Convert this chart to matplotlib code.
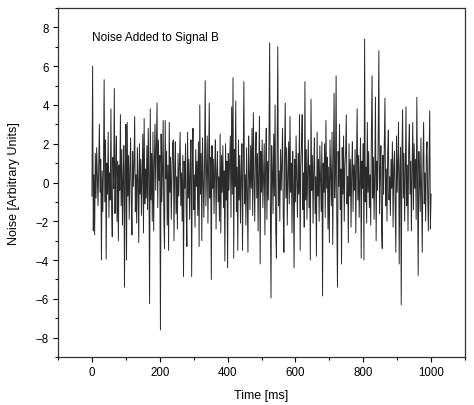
import matplotlib
matplotlib.use("Agg")
import matplotlib.pyplot as plt
from matplotlib.ticker import MultipleLocator
import numpy as np

plt.rcParams["font.family"] = ["Liberation Sans", "DejaVu Sans"]

# noise samples, 2 ms apart (t = 0 ... 1000 ms)
noise = [
    -0.7, 6.0, -2.5, 0.4, -2.7, 1.5, -0.8, 1.8, 0.2, -1.2, 0.9, 3.0, -0.5, 1.2, -4.0, 0.6, -1.5, 0.8, 5.3, -1.0,
    2.2, -3.95, 1.0, -0.6, 2.6, -1.8, 0.5, -0.9, 3.8, -1.4, -2.8, 1.3, -0.3, 4.85, -1.6, 0.7, 2.4, -2.0, 1.1, -3.0,
    0.9, -0.4, 3.5, -1.2, 1.7, -2.2, 0.3, 1.9, -5.4, 0.8, 3.0, -4.0, 3.1, -0.7, 1.4, -1.9, 0.6, 2.3, -0.9, -2.7,
    1.6, -0.2, 0.9, 3.4, -1.5, 0.4, -2.1, 1.8, 0.1, -3.1, 2.0, -0.6, 1.2, -1.7, 0.5, 2.5, -2.6, 3.3, -1.1, 0.7,
    -0.8, 1.9, -1.4, 2.8, 0.3, -6.25, 3.8, -0.9, 1.5, -2.0, 2.6, -2.5, 1.0, 3.0, -0.4, 1.7, 4.1, -1.3, 2.2, 0.1,
    1.4, -7.6, 2.5, -1.0, 0.6, 3.2, -1.8, -3.4, 3.2, 0.2, 1.6, -2.2, 0.9, -3.5, 3.1, -0.5, 1.3, -1.9, 0.4, 2.0,
    2.2, -3.0, 0.8, 2.1, -1.6, 0.3, -2.4, 1.5, -0.7, 0.9, 2.6, -1.2, 0.5, -2.0, 1.4, -4.85, 1.1, -0.3, 2.0, -1.5,
    -3.3, 2.6, -0.8, 1.2, -1.9, 0.6, 2.2, -4.85, 1.0, 2.8, -1.4, 0.4, -2.3, 1.7, -0.2, 1.1, -1.7, 2.1, -3.3, 4.0,
    -0.6, 1.5, -3.0, 2.3, 0.2, -1.8, 1.0, 5.25, -1.2, 0.7, 2.4, -2.1, 0.9, 4.1, -0.8, 1.3, -5.0, 1.9, -0.3, 1.2,
    -1.6, 0.8, 2.2, -2.4, 0.5, 1.6, -1.0, 0.3, -2.0, 2.5, -2.6, 1.4, -0.5, 1.9, -1.3, 0.6, -4.05, 2.0, -0.9, 1.1,
    -4.4, 1.5, -0.4, 0.9, 2.4, -1.8, 3.9, -0.6, 5.4, -3.9, 1.7, -0.2, 4.2, -1.5, 0.8, -3.5, 2.2, -0.9, 1.4, -2.1,
    0.5, 2.0, -3.5, 1.2, 5.2, -1.1, 0.4, -2.2, 1.8, -0.6, -3.6, 2.4, 0.7, -1.4, 1.9, -0.3, 2.8, -1.7, 3.6, 0.2,
    -2.0, 1.3, 2.6, -0.8, 1.5, -2.5, 0.9, 3.4, -4.2, 1.6, -0.5, 2.2, -1.3, 0.4, 2.0, -2.7, 0.8, 2.8, -1.9, 1.1,
    -0.9, 2.3, 7.2, -1.0, -5.95, 1.9, 0.5, -1.6, 2.5, -0.7, 4.0, -2.4, -3.9, 1.4, 7.0, -1.2, 0.6, -2.0, 1.7, -0.4,
    0.9, 2.8, -1.5, -3.6, 1.3, 4.1, -0.8, 1.8, -2.2, 0.3, 2.1, -1.1, 3.4, -0.5, 1.0, -2.6, 1.6, -0.2, -4.4, 1.2,
    -1.0, 2.4, 0.1, -1.8, 1.5, -0.6, 3.5, -3.5, 0.8, 2.0, 3.5, -1.4, 0.5, -2.3, 5.2, -0.9, 1.7, -1.9, 0.6, 2.2,
    -1.3, 0.9, -4.0, 4.3, -0.4, 1.4, -2.1, 0.7, 2.3, -1.6, 0.3, -3.8, 2.6, -0.7, 1.2, -2.0, 1.9, 0.1, -1.5, 2.1,
    -5.85, 1.0, -0.5, 2.0, -1.8, 3.2, -0.3, 1.3, -2.4, 0.8, -3.1, 2.2, 0.4, -1.2, 2.6, -3.2, 1.1, 4.6, -0.8, 0.5,
    5.5, -1.7, -5.4, 1.6, -0.2, 3.0, -1.4, 0.7, -4.2, 1.8, -0.6, 2.4, -2.0, 0.9, 1.5, 3.5, -1.1, 0.3, -3.1, 2.0,
    -0.7, 1.2, -2.3, 0.6, 2.1, -1.5, 0.9, -0.4, 1.7, -2.6, 1.0, 3.8, -0.9, 1.4, -1.8, 0.2, 2.3, -3.9, 1.1, -0.3,
    2.0, -4.0, 7.4, -1.0, 0.8, -2.1, 3.1, -0.5, 1.6, -1.3, 0.4, -2.2, 2.5, 5.5, -0.8, 1.3, -1.9, 0.6, 4.4, -3.0,
    1.1, -0.4, 2.2, 6.8, -1.6, 0.5, 1.9, -2.4, -3.4, 1.4, -0.6, 2.0, 4.35, -1.2, 0.7, -2.0, 1.5, 2.7, -0.9, 0.3,
    -1.7, 1.2, -0.3, 2.1, -2.3, 0.8, 1.6, -1.0, -3.6, 2.4, -0.5, 1.0, 3.1, -4.2, 0.6, 1.8, -6.3, 1.3, 3.75, -0.8,
    1.5, -2.0, 0.4, 3.9, -1.2, 0.9, -2.5, 1.7, 3.0, -0.6, 1.1, -2.5, 0.7, 3.1, -1.4, 2.0, -0.3, 1.2, -1.9, 4.4,
    -0.5, -4.8, 1.6, 0.2, -1.5, 2.3, -0.8, -3.6, 1.0, 3.1, -1.1, 0.5, -2.0, 1.4, 2.1, -0.7, -2.5, 1.0, 3.7, -2.4,
    -0.6,
]
time_ms = np.arange(len(noise)) * 2

fig = plt.figure(figsize=(4.74, 4.06), dpi=100)
ax = fig.add_axes([0.1224, 0.1182, 0.8586, 0.8596])

ax.plot(time_ms, noise, color="#2a2a2a", linewidth=0.7)

ax.set_xlim(-100, 1100)
ax.set_ylim(-9, 9)
ax.xaxis.set_major_locator(MultipleLocator(200))
ax.xaxis.set_minor_locator(MultipleLocator(100))
ax.yaxis.set_major_locator(MultipleLocator(2))
ax.yaxis.set_minor_locator(MultipleLocator(1))
ax.tick_params(which="major", direction="out", length=3.5, width=0.8, labelsize=8.3, pad=3)
ax.tick_params(which="minor", direction="out", length=2, width=0.8)
for s in ax.spines.values():
    s.set_linewidth(0.9)
    s.set_color("#333333")

ax.text(0, 7.5, "Noise Added to Signal B", fontsize=8.5, va="center", ha="left")
ax.set_xlabel("Time [ms]", fontsize=9, labelpad=8)
ax.set_ylabel("Noise [Arbitrary Units]", fontsize=9, labelpad=11)

fig.savefig("out.png", dpi=100)
plt.close(fig)
